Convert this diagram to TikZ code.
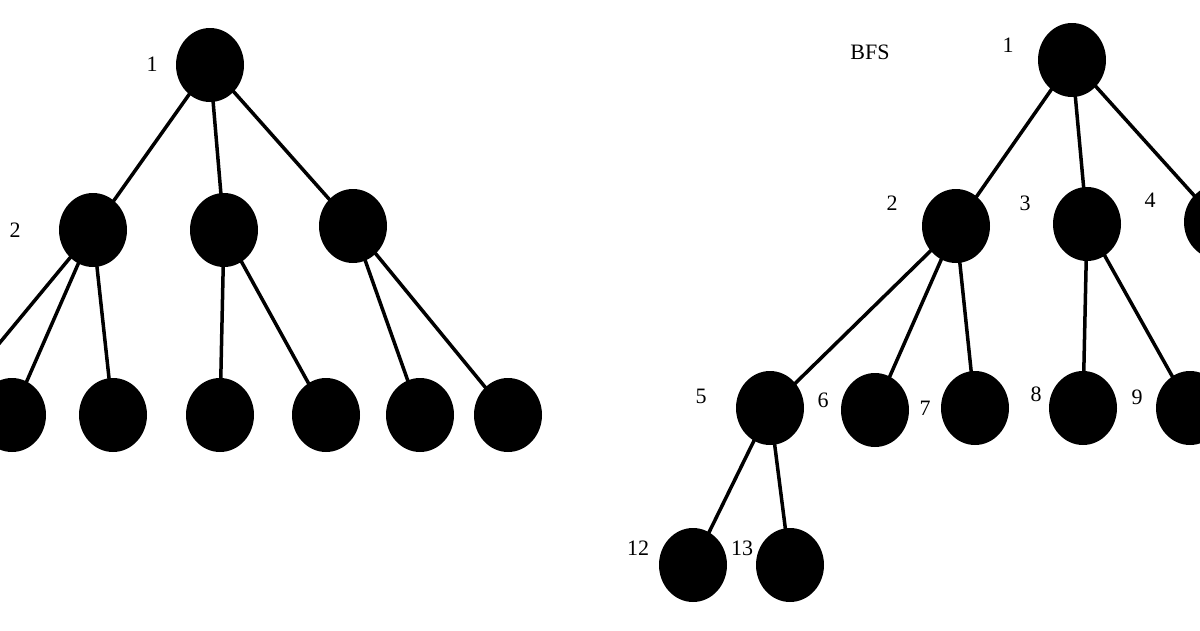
\documentclass[tikz,border=0pt]{standalone}
\usepackage{fontspec}
\setmainfont{Liberation Serif}
\usetikzlibrary{shapes.geometric}
\begin{document}
\begin{tikzpicture}[x=1pt,y=1pt,
  vert/.style={ellipse,fill=black,minimum width=68pt,minimum height=74pt,inner sep=0pt},
  edge/.style={line width=3.5pt},
  lab/.style={font=\fontsize{22}{24}\selectfont}]
\useasboundingbox (0,0) rectangle (1200,-630);
\clip (0,0) rectangle (1200,-630);
% left tree
\node[vert] (a1) at (210,-65) {};
\node[vert] (a2) at (93,-230) {};
\node[vert] (a3) at (224,-230) {};
\node[vert] (a4) at (353,-226) {};
\node[vert] (a0) at (-60,-415) {};
\node[vert] (a5) at (12,-415) {};
\node[vert] (a6) at (113,-415) {};
\node[vert] (a7) at (220,-415) {};
\node[vert] (a8) at (326,-415) {};
\node[vert] (a9) at (420,-415) {};
\node[vert] (a10) at (508,-415) {};
\foreach \u/\v in {a1/a2,a1/a3,a1/a4,a2/a0,a2/a5,a2/a6,a3/a7,a3/a8,a4/a9,a4/a10}
  \draw[edge] (\u.center) -- (\v.center);
\node[lab] (la1) at (152,-64) {1};
\node[lab] (la2) at (15,-230) {2};
% right tree
\node[vert] (b1) at (1072,-60) {};
\node[vert] (b2) at (956,-226) {};
\node[vert] (b3) at (1087,-224) {};
\node[vert] (b4) at (1218,-222) {};
\node[vert] (b5) at (770,-408) {};
\node[vert] (b6) at (875,-410) {};
\node[vert] (b7) at (975,-408) {};
\node[vert] (b8) at (1083,-408) {};
\node[vert] (b9) at (1190,-408) {};
\node[vert] (b12) at (693,-565) {};
\node[vert] (b13) at (790,-565) {};
\foreach \u/\v in {b1/b2,b1/b3,b1/b4,b2/b5,b2/b6,b2/b7,b3/b8,b3/b9,b5/b12,b5/b13}
  \draw[edge] (\u.center) -- (\v.center);
\node[lab] (bfs) at (870,-52) {BFS};
\node[lab] (lb1) at (1008,-45) {1};
\node[lab] (lb2) at (892,-203) {2};
\node[lab] (lb3) at (1025,-203) {3};
\node[lab] (lb4) at (1150,-200) {4};
\node[lab] (lb5) at (701,-396) {5};
\node[lab] (lb6) at (823,-400) {6};
\node[lab] (lb7) at (925,-408) {7};
\node[lab] (lb8) at (1036,-394) {8};
\node[lab] (lb9) at (1137,-397) {9};
\node[lab] (lb12) at (638,-548) {12};
\node[lab] (lb13) at (742,-548) {13};
\end{tikzpicture}
\end{document}
